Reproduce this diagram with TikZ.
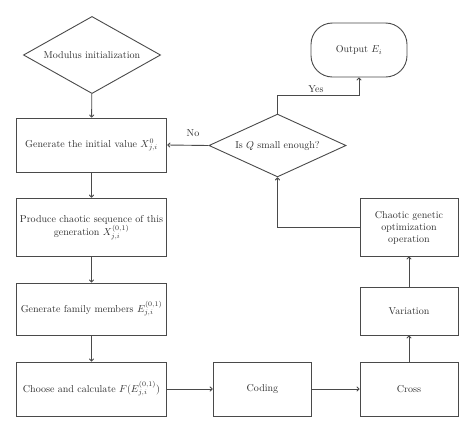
\documentclass[tikz,border=0pt]{standalone}
\usetikzlibrary{shapes.geometric,arrows.meta}
\definecolor{linegray}{HTML}{4A4A4A}
\definecolor{textgray}{HTML}{2E2E2E}
\begin{document}
\begin{tikzpicture}[
    x=0.035cm, y=-0.035cm,
    every node/.style={align=center, font=\normalsize, text=textgray},
    flow box/.style={draw=linegray, line width=0.9pt, rectangle, inner sep=2pt},
    decision/.style={draw=linegray, line width=0.9pt, diamond, inner sep=0pt, aspect=2},
    end box/.style={draw=linegray, line width=0.9pt, rectangle, rounded corners=0.75cm},
    flow arrow/.style={draw=linegray, line width=0.9pt, -{To[length=3pt,width=5pt]}},
    ]
\useasboundingbox (0,0) rectangle (474,432);
\node[decision, minimum width=4.8cm, minimum height=2.7cm] (init) at (92,55) {Modulus initialization};
\node[flow box, minimum width=5.28cm, minimum height=1.89cm] (gen) at (91.5,145) {Generate the initial value $X^{0}_{j,i}$};
\node[flow box, minimum width=5.28cm, minimum height=2.06cm] (chaos) at (91.5,227.5) {Produce chaotic sequence of this\\generation $X^{(0,1)}_{j,i}$};
\node[flow box, minimum width=5.28cm, minimum height=1.82cm] (family) at (91.5,309) {Generate family members $E^{(0,1)}_{j,i}$};
\node[flow box, minimum width=5.28cm, minimum height=1.89cm] (choose) at (91.5,389) {Choose and calculate $F(E^{(0,1)}_{j,i})$};
\node[flow box, minimum width=3.46cm, minimum height=1.89cm] (coding) at (262.5,389) {Coding};
\node[flow box, minimum width=3.43cm, minimum height=1.89cm] (cross) at (409,389) {Cross};
\node[flow box, minimum width=3.43cm, minimum height=1.65cm] (variation) at (409,311.5) {Variation};
\node[flow box, minimum width=3.43cm, minimum height=2cm] (cgo) at (409,227.5) {Chaotic genetic\\optimization\\operation};
\node[decision, minimum width=4.8cm, minimum height=2.2cm] (q) at (277.5,145.5) {Is $Q$ small enough?};
\node[end box, minimum width=3.36cm, minimum height=1.89cm] (out) at (359,50) {Output $E_i$};
\coordinate (yesbend) at (277.5,95);
\draw[flow arrow] (init) -- (gen);
\draw[flow arrow] (gen) -- (chaos);
\draw[flow arrow] (chaos) -- (family);
\draw[flow arrow] (family) -- (choose);
\draw[flow arrow] (choose) -- (coding);
\draw[flow arrow] (coding) -- (cross);
\draw[flow arrow] (cross) -- (variation);
\draw[flow arrow] (variation) -- (cgo);
\draw[flow arrow] (cgo.west) -| (q.south);
\draw[flow arrow] (q.west) -- (gen.east);
\draw[flow arrow] (q.north) -- (yesbend) -| (out.south);
\node (no) at (193,133) {No};
\node (yes) at (316,89) {Yes};
\end{tikzpicture}
\end{document}
